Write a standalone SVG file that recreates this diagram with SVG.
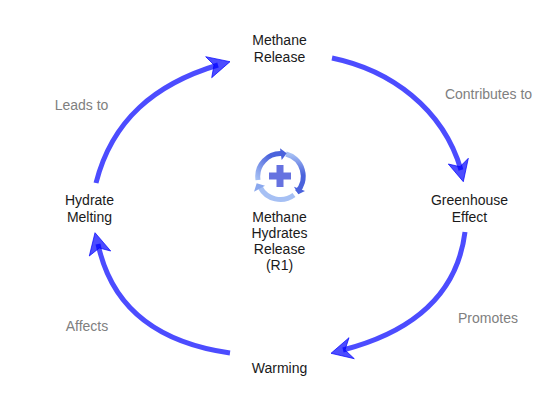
<svg xmlns="http://www.w3.org/2000/svg" width="560" height="414" viewBox="0 0 560 414">
<style>
text{font-family:"Liberation Sans",Arial,sans-serif;font-size:14px;text-anchor:middle}
.n{fill:#1a1a1a}
.l{fill:#808080}
.c{fill:none;stroke:#0000ff;stroke-opacity:.7;stroke-width:5}
.h{fill:#0000ff;fill-opacity:.7;stroke:#0000ff;stroke-opacity:.7;stroke-width:1}
.r{fill:none;stroke-width:5}
</style>
<defs>
<linearGradient id="a" x1="0" y1="1" x2="1" y2="0"><stop offset="0" stop-color="#a6c0f4"/><stop offset=".7" stop-color="#4a62dc"/><stop offset="1" stop-color="#4a62dc"/></linearGradient>
<linearGradient id="b" x1="0" y1="0" x2="0" y2="1"><stop offset="0" stop-color="#a6c0f4"/><stop offset=".55" stop-color="#4a62dc"/><stop offset="1" stop-color="#4a62dc"/></linearGradient>
</defs>
<g id="connectors">
<g id="c1"><path class="c" d="M332,58C390,70 443,108 461,170"/><path class="h" d="M463.300,181.700L448.300,164L460,166.700L468.300,158.300Z"/></g>
<g id="c2"><path class="c" d="M465,232C457,296 412,332 343,350"/><path class="h" d="M331,353.300L349,337.700L345,350L354.300,358.700Z"/></g>
<g id="c3"><path class="c" d="M230,353C160,343 112,310 98,244"/><path class="h" d="M95,232.700L89.300,256L99.300,248L110.700,251Z"/></g>
<g id="c4"><path class="c" d="M96,183C112,120 155,84 218,65"/><path class="h" d="M230,61.700L205.700,56.700L214,65L211.700,77.700Z"/></g>
</g>
<g id="methane-release"><text class="n" x="279.500" y="45">Methane</text><text class="n" x="279.500" y="62">Release</text></g>
<g id="greenhouse-effect"><text class="n" x="469.500" y="205">Greenhouse</text><text class="n" x="469.500" y="222">Effect</text></g>
<g id="warming"><text class="n" x="279.500" y="373">Warming</text></g>
<g id="hydrate-melting"><text class="n" x="89.500" y="205">Hydrate</text><text class="n" x="89.500" y="222">Melting</text></g>
<g id="labels">
<text class="l" x="488.500" y="99">Contributes to</text>
<text class="l" x="488" y="323">Promotes</text>
<text class="l" x="87" y="331">Affects</text>
<text class="l" x="81.500" y="110">Leads to</text>
</g>
<g id="loop-r1">
<path class="r" d="M258,180A23,23 0 0 1 283,153.700" stroke="url(#a)"/>
<path class="r" d="M286,154A23,23 0 0 1 297,192" stroke="url(#b)"/>
<path class="r" d="M294,195A23,23 0 0 1 260,187" stroke="#a6c0f4"/>
<path d="M286.700,153.300L280,148.300L281.700,160Z" fill="#4a62dc"/>
<path d="M298.300,194.300L294,186.700L305,191Z" fill="#4a62dc"/>
<path d="M256.700,183.300L254,191.700L265,185.700Z" fill="#8aa8ee"/>
<rect x="269" y="172.500" width="22" height="7" fill="#6672e0"/>
<rect x="276.500" y="165" width="7" height="22" fill="#6672e0"/>
<text class="n" x="279.500" y="222">Methane</text><text class="n" x="279.500" y="238">Hydrates</text><text class="n" x="279.500" y="254">Release</text><text class="n" x="279.500" y="270">(R1)</text>
</g>
</svg>
